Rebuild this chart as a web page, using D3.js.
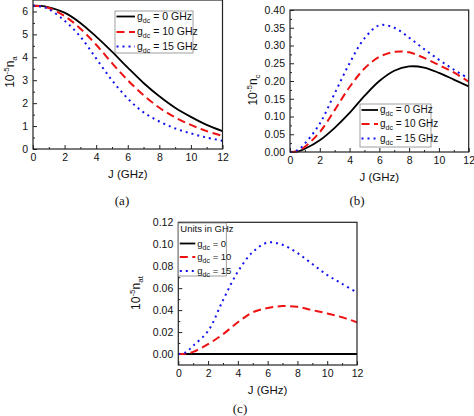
<!DOCTYPE html>
<html>
<head>
<meta charset="utf-8">
<script src="https://cdn.jsdelivr.net/npm/d3@7"></script>
<style>
  body { margin: 0; background: #fff; }
  text { font-family: "Liberation Sans", Arial, sans-serif; fill: #111; }
</style>
</head>
<body>
<div id="chart"></div>
<script>
const J = [0, 0.5, 1, 2, 3, 4, 5, 6, 7, 8, 9, 10, 11, 12];

// (a) 10^-5 n_a
const naG0 = [6.25, 6.24, 6.18, 5.95, 5.5, 4.9, 4.25, 3.55, 2.88, 2.3, 1.8, 1.4, 1.05, 0.78];
const naG10 = [6.25, 6.23, 6.15, 5.8, 5.25, 4.55, 3.75, 3.0, 2.35, 1.8, 1.38, 1.05, 0.78, 0.57];
const naG15 = [6.25, 6.22, 6.1, 5.6, 4.9, 3.95, 3.0, 2.2, 1.6, 1.2, 0.9, 0.68, 0.5, 0.36];

// (b) 10^-5 n_c
const ncG0 = [0, 0.001, 0.009, 0.033, 0.068, 0.11, 0.158, 0.2, 0.229, 0.241, 0.238, 0.223, 0.204, 0.185];
const ncG10 = [0, 0.003, 0.015, 0.056, 0.118, 0.183, 0.235, 0.268, 0.282, 0.281, 0.265, 0.245, 0.224, 0.198];
const ncG15 = [0, 0.005, 0.024, 0.08, 0.165, 0.25, 0.32, 0.357, 0.35, 0.322, 0.29, 0.26, 0.232, 0.207];

// (c) 10^-5 n_at
const natG0 = [0, 0, 0, 0, 0, 0, 0, 0, 0, 0, 0, 0, 0, 0];
const natG10 = [0, 0.0003, 0.002, 0.009, 0.018, 0.029, 0.038, 0.042, 0.0437, 0.043, 0.04, 0.037, 0.0335, 0.029];
const natG15 = [0, 0.0015, 0.0076, 0.021, 0.049, 0.075, 0.093, 0.1015, 0.0995, 0.092, 0.082, 0.072, 0.064, 0.056];

const xTicks = [0, 2, 4, 6, 8, 10, 12];
const xMinor = [1, 3, 5, 7, 9, 11];
const yTicksA = [0, 1, 2, 3, 4, 5, 6];
const yTicksB = [0, 0.05, 0.1, 0.15, 0.2, 0.25, 0.3, 0.35, 0.4];
const yTicksC = [0, 0.02, 0.04, 0.06, 0.08, 0.1, 0.12];

const legendAB = ["0 GHz", "10 GHz", "15 GHz"];
const legendC = ["0", "10", "15"];

// line styles for g_dc = 0, 10, 15
const styles = [
  { color: "#000", dash: null, width: 1.8 },
  { color: "#ee1111", dash: "8,4.5", width: 2 },
  { color: "#1111ee", dash: "2,4", width: 2 }
];

const svg = d3
  .select("#chart")
  .append("svg")
  .attr("width", 474)
  .attr("height", 416);

svg.append("rect").attr("width", 474).attr("height", 416).attr("fill", "#fff");

function drawPanel(o) {
  const x = d3.scaleLinear().domain([0, 12]).range([o.left, o.right]);
  const y = d3.scaleLinear().domain(o.yDomain).range([o.bottom, o.top]);
  const g = svg.append("g");

  // 축 눈금 (안쪽)
  const bottomAxis = g
    .append("g")
    .attr("transform", `translate(0,${o.bottom})`)
    .call(
      d3.axisBottom(x).tickValues(xTicks).tickSizeInner(-4).tickSizeOuter(0).tickPadding(5)
    );
  g.append("g")
    .attr("transform", `translate(0,${o.bottom})`)
    .call(d3.axisBottom(x).tickValues(xMinor).tickSize(-2).tickFormat(""));

  const leftAxis = g
    .append("g")
    .attr("transform", `translate(${o.left},0)`)
    .call(
      d3
        .axisLeft(y)
        .tickValues(o.yTicks)
        .tickFormat(o.yFormat)
        .tickSizeInner(-4)
        .tickSizeOuter(0)
        .tickPadding(5)
    );
  g.append("g")
    .attr("transform", `translate(${o.left},0)`)
    .call(d3.axisLeft(y).tickValues(o.yMinor).tickSize(-2).tickFormat(""));

  g.selectAll(".domain").remove();
  g.selectAll(".tick line").attr("stroke", "#222");
  [bottomAxis, leftAxis].forEach((a) =>
    a
      .selectAll("text")
      .style("font-size", "10.5px")
      .style("font-family", "'Liberation Sans', Arial, sans-serif")
      .attr("fill", "#111")
  );

  // 데이터 곡선
  const clipId = "clip-" + o.name;
  svg
    .append("clipPath")
    .attr("id", clipId)
    .append("rect")
    .attr("x", o.left)
    .attr("y", o.top - 2)
    .attr("width", o.right - o.left)
    .attr("height", o.bottom - o.top + 4);

  const line = d3
    .line()
    .x((d) => x(d[0]))
    .y((d) => y(d[1]))
    .curve(d3.curveCatmullRom.alpha(0.5));

  o.series.forEach((vals, i) => {
    const s = styles[i];
    g.append("path")
      .datum(J.map((j, k) => [j, vals[k]]))
      .attr("clip-path", `url(#${clipId})`)
      .attr("fill", "none")
      .attr("stroke", s.color)
      .attr("stroke-width", s.width)
      .attr("stroke-dasharray", s.dash)
      .attr("d", line);
  });

  // 프레임
  g.append("rect")
    .attr("x", o.left)
    .attr("y", o.top)
    .attr("width", o.right - o.left)
    .attr("height", o.bottom - o.top)
    .attr("fill", "none")
    .attr("stroke", "#222")
    .attr("stroke-width", 1.2);

  // 축 제목
  g.append("text")
    .attr("x", (o.left + o.right) / 2)
    .attr("y", o.bottom + 29)
    .attr("text-anchor", "middle")
    .style("font-size", "11.5px")
    .text("J (GHz)");

  const yl = g
    .append("text")
    .attr("transform", `translate(${o.ylabelX},${o.ylabelY}) rotate(-90)`)
    .attr("text-anchor", "middle")
    .style("font-size", "12px");
  yl.append("tspan").text("10");
  yl.append("tspan").attr("dy", -5).style("font-size", "8px").text("-5");
  yl.append("tspan").attr("dy", 5).text("n");
  yl.append("tspan").attr("dy", 3).style("font-size", "8px").text(o.sub);

  // 범례
  const lg = o.legend;
  const lgG = svg.append("g");
  lgG
    .append("rect")
    .attr("x", lg.x)
    .attr("y", lg.y)
    .attr("width", lg.w)
    .attr("height", lg.h)
    .attr("fill", "#fff")
    .attr("stroke", "#888")
    .attr("stroke-width", 0.8);
  if (lg.title) {
    lgG
      .append("text")
      .attr("x", lg.x + 2)
      .attr("y", lg.y + 9)
      .style("font-size", "9.5px")
      .text(lg.title);
  }
  lg.labels.forEach((lab, i) => {
    const s = styles[i];
    const ry = lg.rows[i];
    lgG
      .append("line")
      .attr("x1", lg.x + 1.5)
      .attr("x2", lg.x + lg.sample)
      .attr("y1", ry)
      .attr("y2", ry)
      .attr("stroke", s.color)
      .attr("stroke-width", s.width)
      .attr("stroke-dasharray", s.dash);
    const t = lgG
      .append("text")
      .attr("x", lg.x + lg.sample + 2)
      .attr("y", ry + 3)
      .style("font-size", lg.font + "px");
    t.append("tspan").text("g");
    t.append("tspan").attr("dy", 3).style("font-size", "7px").text("dc");
    t.append("tspan").attr("dy", -3).text(" = " + lab);
  });

  // 캡션
  svg
    .append("text")
    .attr("x", o.capX)
    .attr("y", o.capY)
    .attr("text-anchor", "middle")
    .style("font-family", "'Liberation Serif', 'DejaVu Serif', serif")
    .style("font-size", "13px")
    .text(o.caption);
}

drawPanel({
  name: "a",
  left: 33,
  right: 222.5,
  top: 0,
  bottom: 149,
  yDomain: [0, 6.5],
  yTicks: yTicksA,
  yMinor: [0.5, 1.5, 2.5, 3.5, 4.5, 5.5],
  yFormat: d3.format("d"),
  series: [naG0, naG10, naG15],
  sub: "a",
  ylabelX: 14,
  ylabelY: 72,
  legend: { x: 115, y: 11, w: 78, h: 42, rows: [16.5, 32, 46.5], sample: 20, font: 10.5, labels: legendAB },
  caption: "(a)",
  capX: 122,
  capY: 205
});

drawPanel({
  name: "b",
  left: 290,
  right: 468.7,
  top: 10,
  bottom: 152,
  yDomain: [0, 0.4],
  yTicks: yTicksB,
  yMinor: [0.025, 0.075, 0.125, 0.175, 0.225, 0.275, 0.325, 0.375],
  yFormat: d3.format(".2f"),
  series: [ncG0, ncG10, ncG15],
  sub: "c",
  ylabelX: 257,
  ylabelY: 90,
  legend: { x: 360, y: 104, w: 71, h: 43, rows: [110, 124, 138.5], sample: 18, font: 10, labels: legendAB },
  caption: "(b)",
  capX: 357,
  capY: 205
});

drawPanel({
  name: "c",
  left: 178.3,
  right: 357,
  top: 222.3,
  bottom: 365,
  yDomain: [-0.01, 0.12],
  yTicks: yTicksC,
  yMinor: [0.01, 0.03, 0.05, 0.07, 0.09, 0.11],
  yFormat: d3.format(".2f"),
  series: [natG0, natG10, natG15],
  sub: "at",
  ylabelX: 140,
  ylabelY: 293,
  legend: { x: 178.3, y: 223, w: 48, h: 53, title: "Units in GHz", rows: [243.5, 257, 271], sample: 17, font: 9.5, labels: legendC },
  caption: "(c)",
  capX: 240,
  capY: 413
});
</script>
</body>
</html>
